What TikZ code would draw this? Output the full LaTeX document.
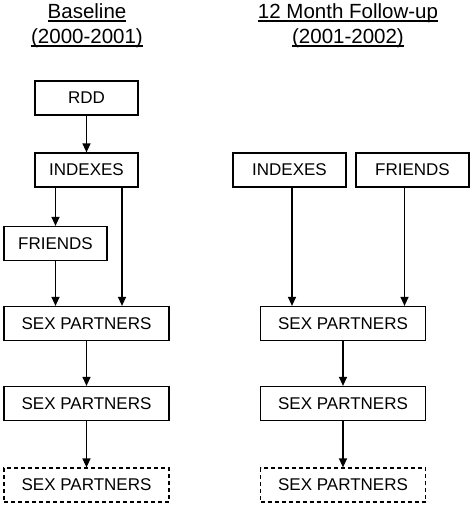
\documentclass[tikz,border=0pt]{standalone}
\usepackage{fontspec}
\setmainfont{Liberation Sans}
\usetikzlibrary{arrows.meta,positioning}
\newcommand{\ulined}[1]{{\setbox0=\hbox{#1}\rlap{\rule[-3.2pt]{\wd0}{1.1pt}}\box0}}

\begin{document}
\begin{tikzpicture}[
    x=1pt, y=-1pt,
    >={Triangle[length=9pt, width=8pt]},
    box/.style={draw, line width=1.2pt, minimum height=34pt, inner sep=0pt, font=\fontsize{17}{20}\selectfont},
    dashbox/.style={box, dash pattern=on 4pt off 3pt},
    heading/.style={font=\fontsize{20.5}{25}\selectfont, align=center, anchor=base},
    flow/.style={line width=1.2pt, ->}
]

% Page frame
\useasboundingbox (0,0) rectangle (474,507);

% Headings
\node[heading] (baseHead) at (87, 43.3) {\ulined{Baseline}\\\ulined{(2000-2001)}};
\node[heading] (followHead) at (348, 43.3) {\ulined{12 Month Follow-up}\\\ulined{(2001-2002)}};

% Baseline column
\node[box, minimum width=103pt] (rdd) at (86.5, 98) {RDD};
\node[box, minimum width=103pt] (baseIdx) at (86.5, 170) {INDEXES};
\node[box, minimum width=103pt] (baseFriends) at (55.5, 243.5) {FRIENDS};
\node[box, minimum width=165pt] (baseSexA) at (86.5, 323.5) {SEX PARTNERS};
\node[box, minimum width=165pt] (baseSexB) at (86.5, 403.5) {SEX PARTNERS};
\node[dashbox, minimum width=165pt] (baseSexC) at (86.5, 485) {SEX PARTNERS};

\draw[flow] (rdd) -- (baseIdx);
\draw[flow] (baseIdx.south -| baseFriends) -- (baseFriends);
\draw[flow] (baseFriends) -- (baseFriends |- baseSexA.north);
\draw[flow] ([xshift=35.5pt]baseIdx.south) -- ([xshift=35.5pt]baseIdx.south |- baseSexA.north);
\draw[flow] (baseSexA) -- (baseSexB);
\draw[flow] (baseSexB) -- (baseSexC);

% Follow-up column
\node[box, minimum width=113pt] (followIdx) at (289.5, 170) {INDEXES};
\node[box, minimum width=113pt] (followFriends) at (412.5, 170) {FRIENDS};
\node[box, minimum width=165pt] (followSexA) at (343, 323.5) {SEX PARTNERS};
\node[box, minimum width=165pt] (followSexB) at (343, 403.5) {SEX PARTNERS};
\node[dashbox, minimum width=165pt] (followSexC) at (343, 485) {SEX PARTNERS};

\draw[flow] ([xshift=2.5pt]followIdx.south) -- ([xshift=2.5pt]followIdx.south |- followSexA.north);
\draw[flow] ([xshift=-8pt]followFriends.south) -- ([xshift=-8pt]followFriends.south |- followSexA.north);
\draw[flow] (followSexA) -- (followSexB);
\draw[flow] (followSexB) -- (followSexC);

\end{tikzpicture}
\end{document}
